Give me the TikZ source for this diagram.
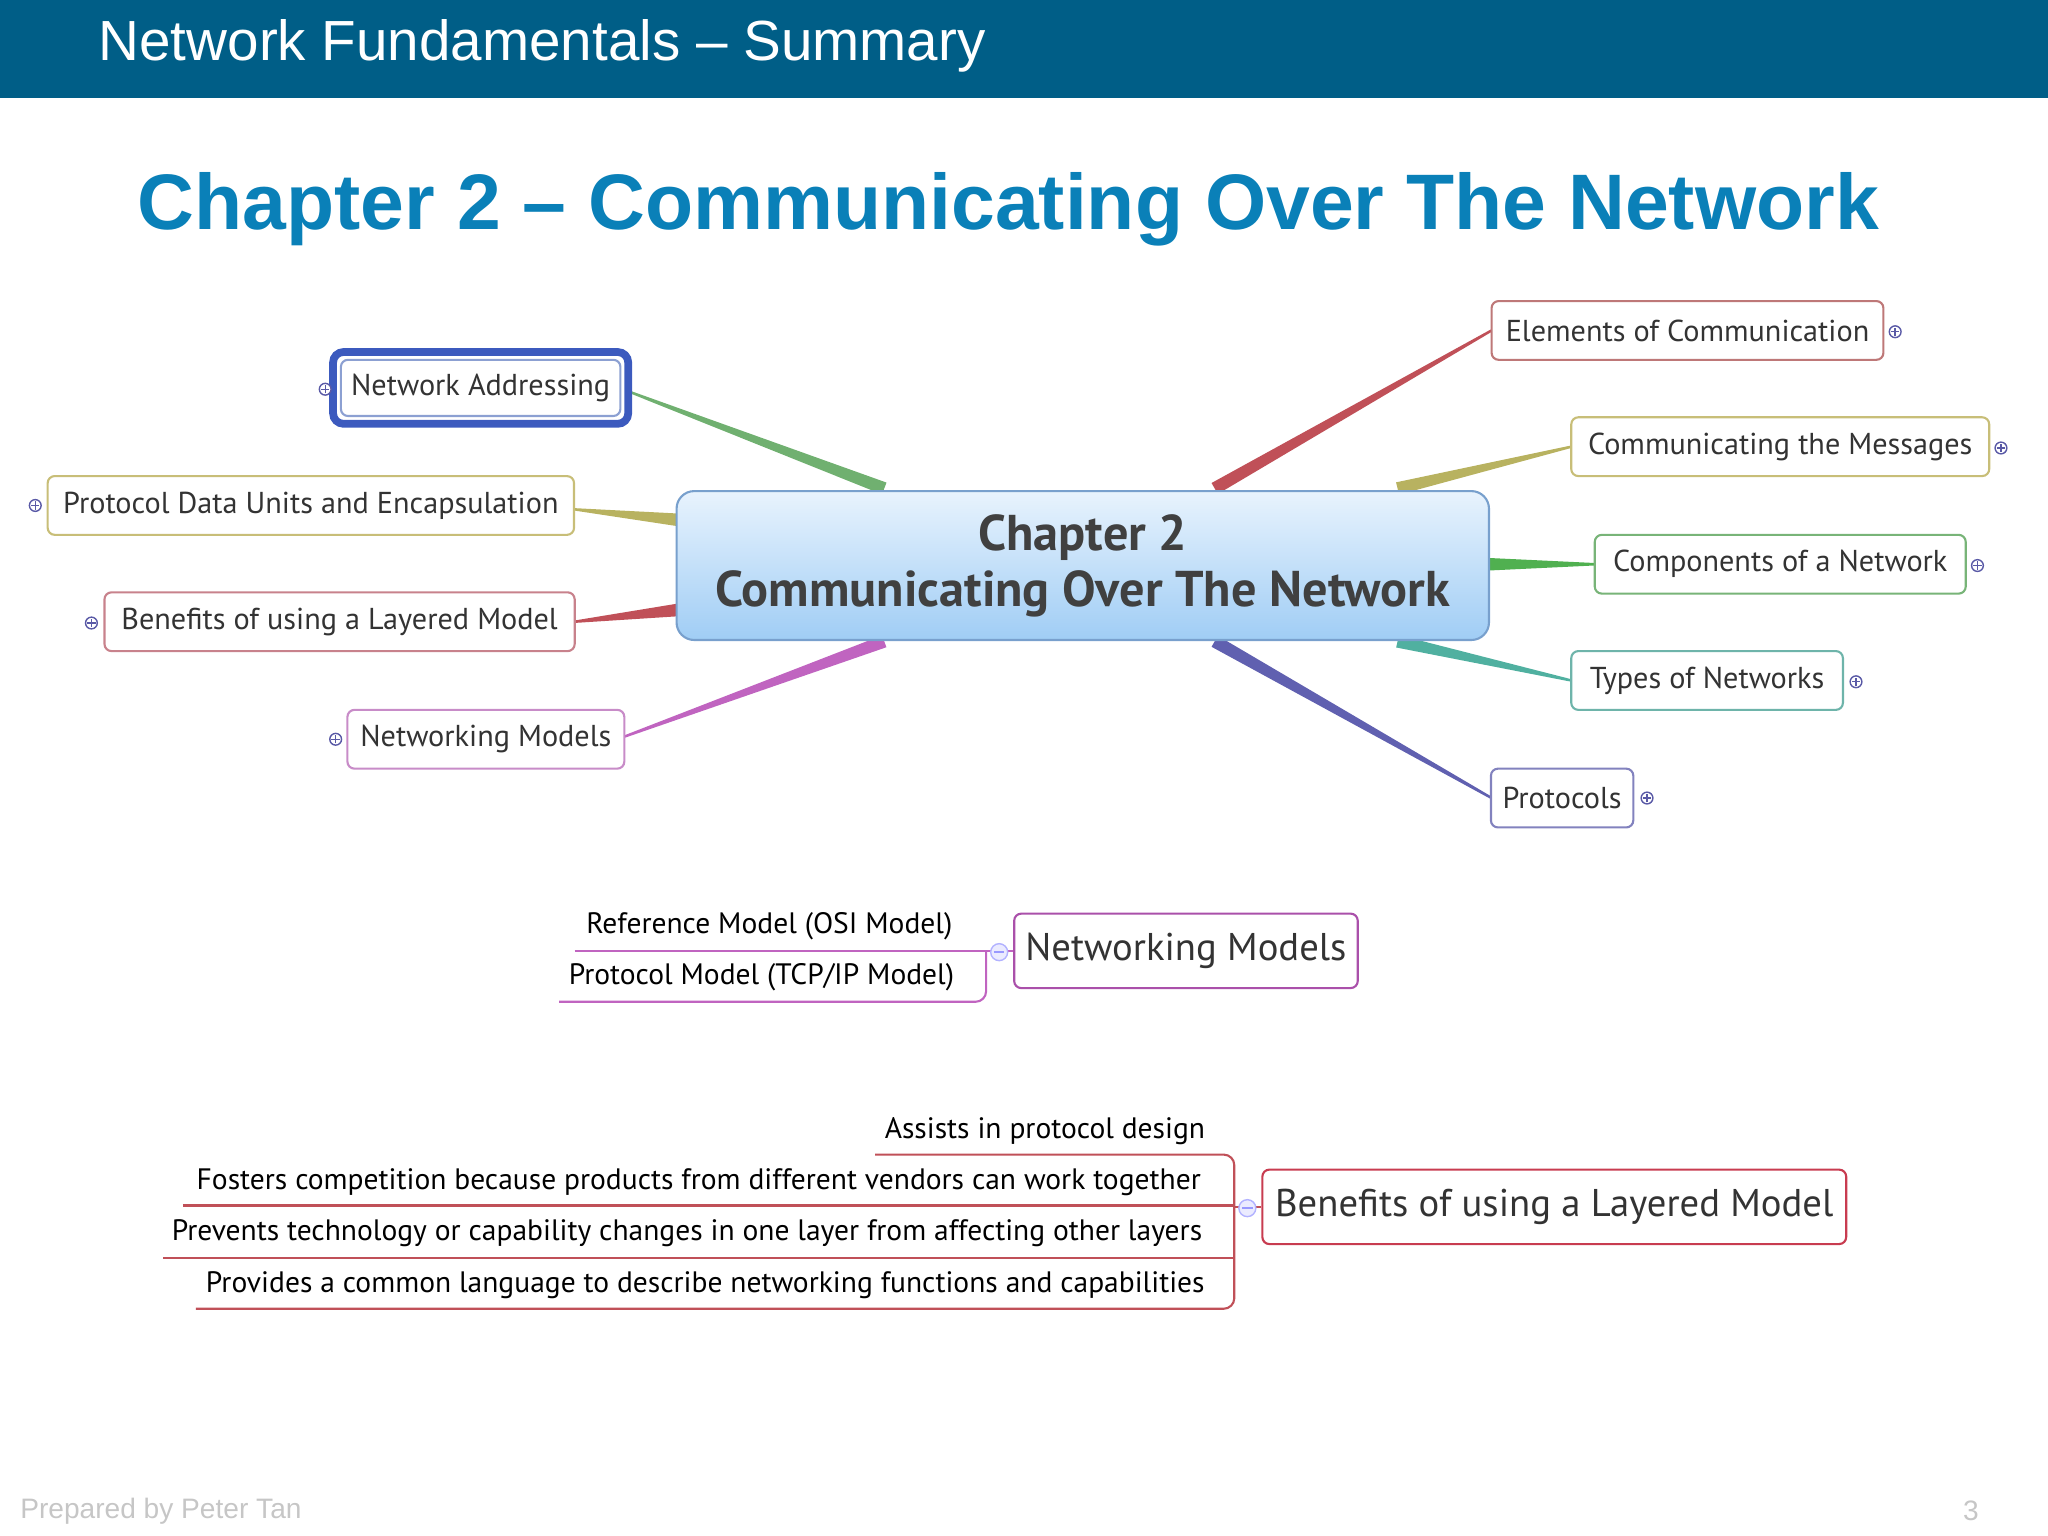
\documentclass[tikz,border=0pt]{standalone}
\usepackage{fontspec}
\setmainfont{Liberation Sans}
\newfontfamily\nodefont{PT Sans}
\usetikzlibrary{calc,shadings}
\definecolor{hdr}{RGB}{0,94,135}
\definecolor{ttl}{RGB}{10,128,184}
\definecolor{cgreen}{RGB}{112,176,112}
\definecolor{colive}{RGB}{184,178,96}
\definecolor{cred}{RGB}{192,80,88}
\definecolor{cpurple}{RGB}{192,100,192}
\definecolor{cgreen2}{RGB}{80,176,80}
\definecolor{cteal}{RGB}{80,176,160}
\definecolor{cblue}{RGB}{96,96,176}
\definecolor{txt}{RGB}{51,51,51}
\definecolor{ctrb}{RGB}{120,160,205}
\definecolor{ctrt}{RGB}{232,243,253}
\definecolor{ctrbot}{RGB}{160,205,245}
\definecolor{ctrtx}{RGB}{64,64,64}
\definecolor{naouter}{RGB}{60,90,190}
\definecolor{bna}{RGB}{140,160,210}
\definecolor{bolive}{RGB}{200,190,120}
\definecolor{bred}{RGB}{200,130,140}
\definecolor{bpurple}{RGB}{200,140,200}
\definecolor{bbrown}{RGB}{190,120,120}
\definecolor{bgreen}{RGB}{120,180,120}
\definecolor{bteal}{RGB}{110,180,170}
\definecolor{bblue}{RGB}{130,130,190}
\definecolor{bpurple2}{RGB}{170,80,170}
\definecolor{bred2}{RGB}{200,60,80}
\tikzset{
  br/.style={draw=#1, rounded corners=2pt, line width=0.6pt, fill=white, text=txt,
    font=\nodefont\fontsize{8.6}{10}\selectfont, inner sep=0pt, minimum height=45*0.013061cm},
  big/.style={br=#1, font=\nodefont\fontsize{11}{13}\selectfont, minimum height=57*0.013061cm},
  child/.style={font=\nodefont\fontsize{8.4}{10}\selectfont, text=black, inner sep=0pt},
  plus/.style={circle, draw=gray!70!blue, fill=white, line width=0.4pt, inner sep=0pt, minimum size=9*0.013061cm,
    path picture={\draw[gray!70!blue,line width=0.4pt] ([xshift=-1.2pt]path picture bounding box.center)--([xshift=1.2pt]path picture bounding box.center)
      ([yshift=-1.2pt]path picture bounding box.center)--([yshift=1.2pt]path picture bounding box.center);}},
  minus/.style={circle, draw=blue!30, fill=blue!8, line width=0.4pt, inner sep=0pt, minimum size=13*0.013061cm,
    path picture={\draw[blue!40,line width=0.5pt] ([xshift=-1.5pt]path picture bounding box.center)--([xshift=1.5pt]path picture bounding box.center);}},
}
\newcommand{\taper}[3]{\fill[#3] ($(#1)!1.8pt!90:(#2)$) -- ($(#2)!0.35pt!-90:(#1)$) -- ($(#2)!0.35pt!90:(#1)$) -- ($(#1)!1.8pt!-90:(#2)$) -- cycle;}
\begin{document}
\begin{tikzpicture}[x=0.013061cm,y=-0.013061cm]
\useasboundingbox (0,0) rectangle (1568,1176);
% header
\fill[hdr] (0,0) rectangle (1568,75);
\node[anchor=west,inner sep=0pt,text=white,font=\fontsize{16.1}{19}\selectfont] (hd) at (75,35) {Network Fundamentals -- Summary};
\node[text=ttl,font=\bfseries\fontsize{22.4}{26}\selectfont] (ttl) at (772,160) {Chapter 2 -- Communicating Over The Network};
% connector endpoints
\coordinate (c1) at (677,374); \coordinate (c2) at (519,398); \coordinate (c3) at (519,467); \coordinate (c4) at (677,491);
\coordinate (c5) at (930,374); \coordinate (c6) at (1070,374); \coordinate (c7) at (1139,432); \coordinate (c8) at (1070,491); \coordinate (c9) at (930,491);
\coordinate (e1) at (482,300); \coordinate (e2) at (440,390); \coordinate (e3) at (440,476); \coordinate (e4) at (478,564);
\coordinate (e5) at (1142,253); \coordinate (e6) at (1203,342); \coordinate (e7) at (1221,432); \coordinate (e8) at (1203,521); \coordinate (e9) at (1142,611);
\taper{c1}{e1}{cgreen} \taper{c2}{e2}{colive} \taper{c3}{e3}{cred} \taper{c4}{e4}{cpurple}
\taper{c5}{e5}{cred} \taper{c6}{e6}{colive} \taper{c7}{e7}{cgreen2} \taper{c8}{e8}{cteal} \taper{c9}{e9}{cblue}
% central
\node[draw=ctrb, rounded corners=5pt, line width=0.6pt,
  top color=ctrt, bottom color=ctrbot,
  minimum width=622*0.013061cm, minimum height=114*0.013061cm, align=center,
  text=ctrtx, font=\nodefont\bfseries\fontsize{14.3}{16}\selectfont] (ctr) at (829,433)
  {Chapter 2\\Communicating Over The Network};
% left branches
\node[draw=naouter, line width=2.2pt, rounded corners=3pt, minimum width=226*0.013061cm, minimum height=55*0.013061cm] (naout) at (368,297) {};
\node[br=bna, minimum width=214*0.013061cm, minimum height=43*0.013061cm] (na) at (368,297) {Network Addressing};
\node[br=bolive, minimum width=403*0.013061cm] (pdu) at (238,387) {Protocol Data Units and Encapsulation};
\node[br=bred, minimum width=360*0.013061cm] (ben) at (260,476) {Benefits of using a Layered Model};
\node[br=bpurple, minimum width=212*0.013061cm] (nm) at (372,566) {Networking Models};
\node[plus] (p1) at (249,298) {}; \node[plus] (p2) at (27,387) {}; \node[plus] (p3) at (70,477) {}; \node[plus] (p4) at (257,566) {};
% right branches
\node[br=bbrown, minimum width=300*0.013061cm] (el) at (1292,253) {Elements of Communication};
\node[br=bolive, minimum width=320*0.013061cm] (cm) at (1363,342) {Communicating the Messages};
\node[br=bgreen, minimum width=284*0.013061cm] (co) at (1363,432) {Components of a Network};
\node[br=bteal, minimum width=208*0.013061cm] (ty) at (1307,521) {Types of Networks};
\node[br=bblue, minimum width=109*0.013061cm] (pr) at (1196,611) {Protocols};
\node[plus] (q1) at (1451,254) {}; \node[plus] (q2) at (1532,343) {}; \node[plus] (q3) at (1514,433) {}; \node[plus] (q4) at (1421,522) {}; \node[plus] (q5) at (1261,611) {};
% Networking models detail
\node[big=bpurple2, minimum width=263*0.013061cm] (nm2) at (908,728) {Networking Models};
\coordinate (nmj) at (755,728);
\node[child] (r1) at (589,709) {Reference Model (OSI Model)};
\node[child] (r2) at (583,748) {Protocol Model (TCP/IP Model)};
\draw[cpurple,line width=0.6pt] (440,728) -- (nmj) -- (nm2.west);
\draw[cpurple,line width=0.6pt,rounded corners=3pt] (428,767) -- (755,767) -- (nmj);
\node[minus] (m1) at (765,729) {};
% Benefits detail
\node[big=bred2, minimum width=447*0.013061cm] (bn2) at (1190,924) {Benefits of using a Layered Model};
\node[child] (b1) at (800,866) {Assists in protocol design};
\node[child] (b2) at (535,905) {Fosters competition because products from different vendors can work together};
\node[child] (b3) at (526,944) {Prevents technology or capability changes in one layer from affecting other layers};
\node[child] (b4) at (540,984) {Provides a common language to describe networking functions and capabilities};
\coordinate (bj) at (945,924);
\draw[cred,line width=0.6pt,rounded corners=3pt] (670,884) -- (945,884) -- (945,1002) -- (150,1002);
\draw[cred,line width=0.6pt] (140,923) -- (945,923) (125,963) -- (945,963) (bj) -- (bn2.west);
\node[minus] (m2) at (955,925) {};
% footer
\node[anchor=west,inner sep=0pt,text=gray!45,font=\fontsize{8}{10}\selectfont] (ft) at (15,1157) {Prepared by Peter Tan};
\node[text=gray!45,inner sep=0pt,font=\fontsize{8}{10}\selectfont] (pg) at (1509,1157) {3};
\end{tikzpicture}
\end{document}
